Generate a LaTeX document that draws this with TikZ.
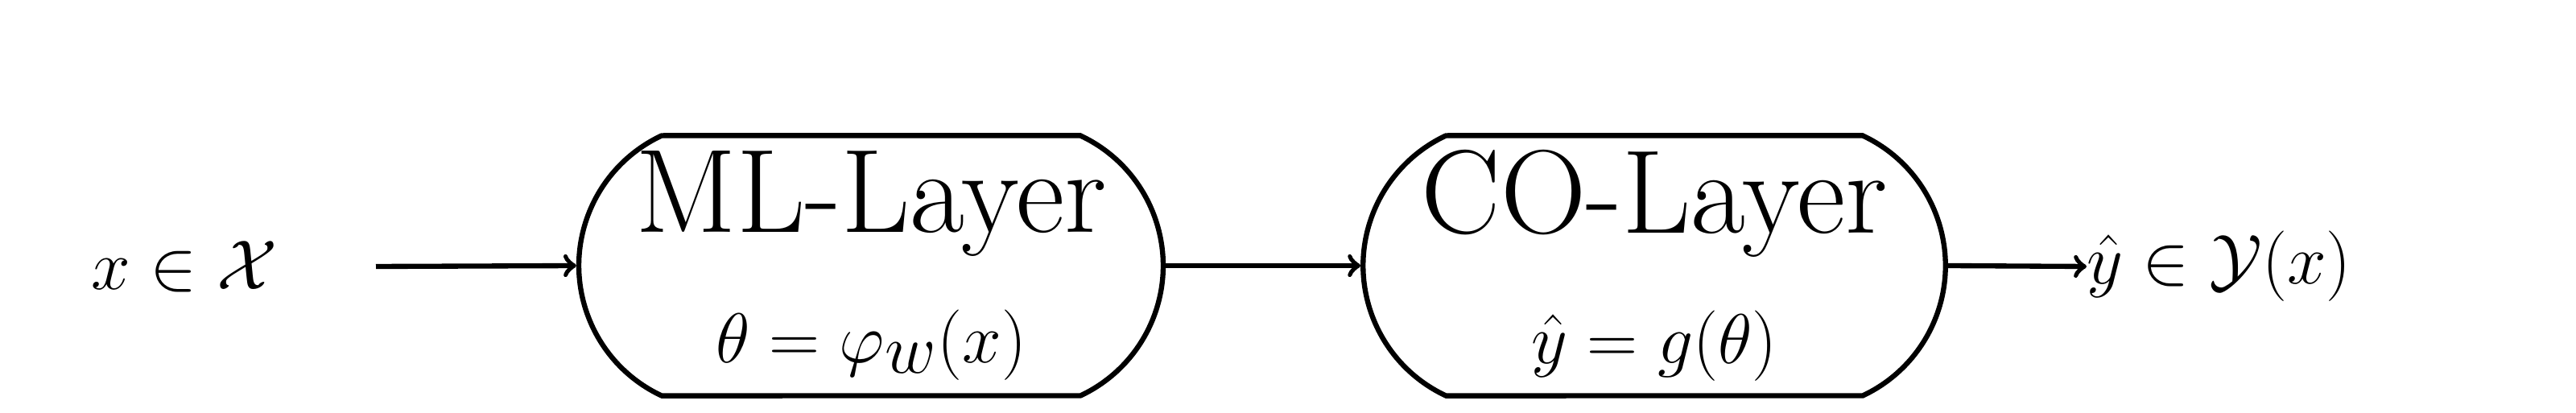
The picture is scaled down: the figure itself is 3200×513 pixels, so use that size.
\documentclass[tikz,border=0pt]{standalone}
\usepackage{amsmath}
\usetikzlibrary{shapes.misc}
\tikzset{
  layer/.style={draw, line width=1.8pt, rounded rectangle, rounded rectangle arc length=130,
    minimum width=6.45cm, minimum height=3.23cm, align=center, inner sep=0pt},
  conn/.style={line width=1.8pt, ->, >=to},
}
\begin{document}
\begin{tikzpicture}[x=0.01cm,y=-0.01cm,font=\fontsize{42}{40}\selectfont]
\useasboundingbox (0,0) rectangle (3200,513);
\node[inner sep=0pt, anchor=west] (in) at (113,331) {$x\in\mathcal{X}$};
\coordinate (start) at (467,331);
\node[layer] (ml) at (1082,330) {ML-Layer\\[6pt]$\theta=\varphi_w(x)$};
\node[layer] (co) at (2055,330) {CO-Layer\\[6pt]$\hat y=g(\theta)$};
\node[inner sep=0pt, anchor=west] (out) at (2592,331) {$\hat y\in\mathcal{Y}(x)$};
\draw[conn] (start) -- (ml.west);
\draw[conn] (ml.east) -- (co.west);
\draw[conn] (co.east) -- (out.west);
\end{tikzpicture}
\end{document}
